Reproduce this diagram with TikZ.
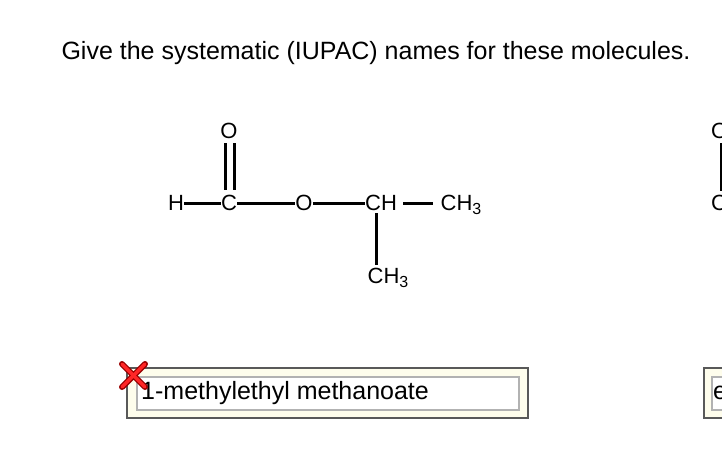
\documentclass[tikz,border=0pt]{standalone}
\usepackage{fontspec}
\setmainfont{Liberation Sans}
\newcommand{\sbt}[1]{\raisebox{-0.35ex}{\fontsize{16}{16}\selectfont #1}}
\begin{document}
\begin{tikzpicture}[x=1pt,y=-1pt,
  atom/.style={inner sep=0pt,font=\fontsize{22}{22}\selectfont},
  bond/.style={line width=3pt},
  boxouter/.style={draw=gray!70!black,fill=gray!15!yellow!8!white,line width=1.8pt},
  boxinner/.style={draw=gray!60,fill=white,line width=1.2pt}]
\useasboundingbox (0,0) rectangle (722,472);
\node[font=\fontsize{25}{25}\selectfont] (title) at (376,53) {Give the systematic (IUPAC) names for these molecules.};
\node[atom] (H) at (176,203) {H};
\node[atom] (C) at (229,203) {C};
\node[atom] (O1) at (229,131) {O};
\node[atom] (O2) at (304,203) {O};
\node[atom] (CH) at (381,203) {CH};
\node[atom] (CH3a) at (461,205) {CH\sbt{3}};
\node[atom] (CH3b) at (388,278) {CH\sbt{3}};
\draw[bond] (H.east) -- (C.west);
\draw[bond] (C.east) -- (O2.west);
\draw[bond] (O2.east) -- (CH.west);
\draw[bond] (403,203) -- (433,203);
\draw[bond] (376,213) coordinate (v1) -- (376,265) coordinate (v2);
\draw[bond] (225,143) -- (225,190);
\draw[bond] (234,143) -- (234,190);
% answer box
\draw[boxouter] (127,368) rectangle (528,418);
\draw[boxinner] (137,377) rectangle (519,410);
\node[anchor=base west,font=\fontsize{25}{25}\selectfont,inner sep=0pt] (ans) at (141,399) {1-methylethyl methanoate};
\draw[line width=6pt,red!60!black,line cap=round] (122,364) -- (145,387) (145,364) -- (122,387);
\draw[line width=3.5pt,red!85!white,line cap=round] (122,364) -- (145,387) (145,364) -- (122,387);
% right partial
\node[atom,anchor=west] (O3) at (711,131) {O};
\node[atom,anchor=west] (C3) at (711,203) {C};
\draw[line width=1.5pt] (721,143) -- (721,191);
\draw[boxouter] (704,368) rectangle (740,418);
\draw[boxinner] (712,377) rectangle (740,410);
\node[anchor=base west,font=\fontsize{25}{25}\selectfont,inner sep=0pt] (ans2) at (713,399) {e};
\end{tikzpicture}
\end{document}
